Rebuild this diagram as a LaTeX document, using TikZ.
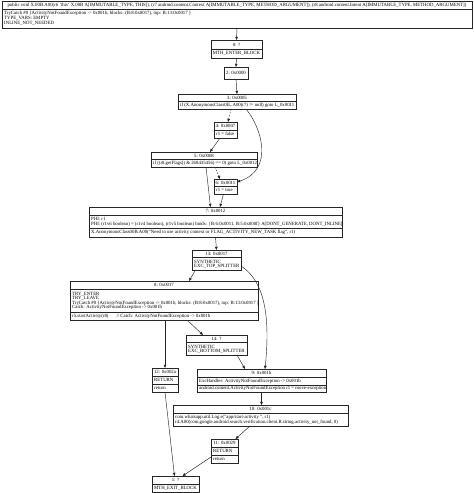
\documentclass[tikz,border=0pt]{standalone}
\usepackage{fontspec}
\setmainfont{Liberation Serif}
\usetikzlibrary{arrows.meta}
\begin{document}
\begin{tikzpicture}[x=1pt,y=-1pt,
  blk/.style={draw=black!85,line width=0.45pt,inner sep=0pt,outer sep=0pt,rectangle},
  tx/.style={inner sep=0pt,font=\fontsize{4.8}{5}\selectfont,text=black},
  tl/.style={tx,anchor=west},
  sepl/.style={draw=black!85,line width=0.45pt},
  edge/.style={draw=black!85,line width=0.45pt,-{Triangle[length=3.2pt,width=2.6pt]}},
  dedge/.style={edge,dash pattern=on 1.5pt off 1.5pt}]
\useasboundingbox (0,0) rectangle (474,493);
% header
\node[blk,minimum width=470pt,minimum height=26.5pt] (H) at (237,14.75) {};
\draw[sepl] (H.west |- 0,9.5) -- (H.east |- 0,9.5);
\node[tx] at (237,5.5) {public void X.00B.A00(r6 'this' X.00B A[IMMUTABLE\_TYPE, THIS]), (r7 android.content.Context A[IMMUTABLE\_TYPE, METHOD\_ARGUMENT]), (r8 android.content.Intent A[IMMUTABLE\_TYPE, METHOD\_ARGUMENT])};
\node[tl] at (4,13.5) {TryCatch \#0 \{ActivityNotFoundException -> 0x001b, blocks: (B:8:0x0017), top: B:13:0x0017 \}};
\node[tl] at (4,18.5) {TYPE\_VARS: EMPTY};
\node[tl] at (4,23.5) {INLINE\_NOT\_NEEDED};
% block 0
\node[blk,minimum width=51pt,minimum height=18pt] (n0) at (236.5,49) {};
\draw[sepl] (n0.west |- 0,49) -- (n0.east |- 0,49);
\node[tx] at (236.5,44.5) {0: ?};
\node[tx] at (236.5,53.5) {MTH\_ENTER\_BLOCK};
% block 2
\node[blk,minimum width=24pt,minimum height=12pt] (n2) at (236,73) {};
\node[tx] at (236,73) {2: 0x0000};
% block 3
\node[blk,minimum width=118pt,minimum height=15pt] (n3) at (237,101.5) {};
\draw[sepl] (n3.west |- 0,101.5) -- (n3.east |- 0,101.5);
\node[tx] at (237,97.7) {3: 0x0005};
\node[tl] at (180,105.3) {if (X.AnonymousClass0IL.A00(r7) != null) goto L\_0x0011};
% block 4
\node[blk,minimum width=23pt,minimum height=16pt] (n4) at (225.5,130) {};
\draw[sepl] (n4.west |- 0,130) -- (n4.east |- 0,130);
\node[tx] at (225.5,126) {4: 0x0007};
\node[tl] at (216,134) {r1 = false};
% block 5
\node[blk,minimum width=106pt,minimum height=15pt] (n5) at (204,159.5) {};
\draw[sepl] (n5.west |- 0,159.5) -- (n5.east |- 0,159.5);
\node[tx] at (204,155.7) {5: 0x0008};
\node[tl] at (153,163.3) {if ((r8.getFlags() \& 268435456) == 0) goto L\_0x0012};
% block 6
\node[blk,minimum width=23pt,minimum height=15pt] (n6) at (225.5,186.5) {};
\draw[sepl] (n6.west |- 0,186.5) -- (n6.east |- 0,186.5);
\node[tx] at (225.5,182.7) {6: 0x0011};
\node[tl] at (216,190.3) {r1 = true};
% block 7
\node[blk,minimum width=253pt,minimum height=30pt] (n7) at (215.5,222) {};
\draw[sepl] (n7.west |- 0,215.5) -- (n7.east |- 0,215.5);
\draw[sepl] (n7.west |- 0,228.5) -- (n7.east |- 0,228.5);
\node[tx] at (215.5,211.3) {7: 0x0012};
\node[tl] at (91,219.3) {PHI: r1};
\node[tl] at (91,224.3) {PHI: (r1v6 boolean) = (r1v4 boolean), (r1v5 boolean) binds: \{B:6:0x0011, B:5:0x000f\} A[DONT\_GENERATE, DONT\_INLINE]};
\node[tl] at (91,232.7) {X.AnonymousClass00B.A00("Need to use activity context or FLAG\_ACTIVITY\_NEW\_TASK flag", r1)};
% block 13
\node[blk,minimum width=49pt,minimum height=20pt] (n13) at (216.5,260) {};
\draw[sepl] (n13.west |- 0,257) -- (n13.east |- 0,257);
\node[tx] at (216.5,253.5) {13: 0x0017};
\node[tl] at (194,261.5) {SYNTHETIC};
\node[tl] at (194,266.3) {EXC\_TOP\_SPLITTER};
% block 8
\node[blk,minimum width=188pt,minimum height=39pt] (n8) at (164,300.5) {};
\draw[sepl] (n8.west |- 0,289.5) -- (n8.east |- 0,289.5);
\draw[sepl] (n8.west |- 0,312) -- (n8.east |- 0,312);
\node[tx] at (164,285.3) {8: 0x0017};
\node[tl] at (72,294) {TRY\_ENTER};
\node[tl] at (72,298.5) {TRY\_LEAVE};
\node[tl] at (72,303) {TryCatch \#0 \{ActivityNotFoundException -> 0x001b, blocks: (B:8:0x0017), top: B:13:0x0017 \}};
\node[tl] at (72,307.5) {Catch: ActivityNotFoundException -> 0x001b};
\node[tl] at (72,316) {r5.startActivity(r8)\hspace{8pt}// Catch: ActivityNotFoundException -> 0x001b};
% block 14
\node[blk,minimum width=61pt,minimum height=20pt] (n14) at (216.5,345) {};
\draw[sepl] (n14.west |- 0,342) -- (n14.east |- 0,342);
\node[tx] at (216.5,338.5) {14: ?};
\node[tl] at (188,346.5) {SYNTHETIC};
\node[tl] at (188,351.3) {EXC\_BOTTOM\_SPLITTER};
% block 9
\node[blk,minimum width=129pt,minimum height=23pt] (n9) at (261.5,380.5) {};
\draw[sepl] (n9.west |- 0,377) -- (n9.east |- 0,377);
\draw[sepl] (n9.west |- 0,385) -- (n9.east |- 0,385);
\node[tx] at (261.5,373) {9: 0x001b};
\node[tl] at (199,381) {ExcHandler: ActivityNotFoundException -> 0x001b};
\node[tl] at (199,388.5) {android.content.ActivityNotFoundException r1 = move-exception};
% block 12
\node[blk,minimum width=26pt,minimum height=24pt] (n12) at (165,380) {};
\draw[sepl] (n12.west |- 0,376) -- (n12.east |- 0,376);
\draw[sepl] (n12.west |- 0,384) -- (n12.east |- 0,384);
\node[tx] at (165,372) {12: 0x002a};
\node[tl] at (154,380) {RETURN};
\node[tl] at (154,388) {return};
% block 10
\node[blk,minimum width=175pt,minimum height=21pt] (n10) at (260.5,415.5) {};
\draw[sepl] (n10.west |- 0,413) -- (n10.east |- 0,413);
\node[tx] at (260.5,409) {10: 0x001c};
\node[tl] at (175,417) {com.whatsapp.util.Log.e("app/start-activity ", r1)};
\node[tl] at (175,422) {r4.A00(com.google.android.search.verification.client.R.string.activity\_not\_found, 0)};
% block 11
\node[blk,minimum width=27pt,minimum height=24pt] (n11) at (224.5,451) {};
\draw[sepl] (n11.west |- 0,447) -- (n11.east |- 0,447);
\draw[sepl] (n11.west |- 0,455) -- (n11.east |- 0,455);
\node[tx] at (224.5,443) {11: 0x0029};
\node[tl] at (213,451) {RETURN};
\node[tl] at (213,459) {return};
% block 1
\node[blk,minimum width=47pt,minimum height=16pt] (n1) at (175.5,484) {};
\draw[sepl] (n1.west |- 0,484) -- (n1.east |- 0,484);
\node[tx] at (175.5,480) {1: ?};
\node[tx] at (175.5,488) {MTH\_EXIT\_BLOCK};
% edges
\draw[edge] (H.south) -- (n0.north);
\draw[edge] (n0.south) -- (n2.north);
\draw[edge] (n2.south) -- (n3.north);
\draw[dedge] ([xshift=-6pt]n3.south) -- ([xshift=2.5pt]n4.north);
\draw[edge] ([xshift=9pt]n3.south) .. controls +(16,19) and +(37,-12) .. ([yshift=-3pt]n6.north east);
\draw[edge] ([xshift=-5.5pt]n4.south) -- ([xshift=6pt]n5.north);
\draw[dedge] ([xshift=11pt]n5.south) -- ([xshift=-5.5pt]n6.north);
\draw[edge] ([xshift=2pt]n5.south) -- ([xshift=-5pt]n7.north);
\draw[edge] ([xshift=-2pt]n6.south) -- ([xshift=4.5pt]n7.north);
\draw[edge] (n7.south) -- (n13.north);
\draw[edge] ([xshift=-21pt]n13.south) -- ([xshift=25pt]n8.north);
\draw[edge] ([yshift=-6pt]n13.east) .. controls +(28,18) and +(4,-40) .. ([xshift=3.5pt]n9.north);
\draw[edge] ([xshift=23pt]n8.south) -- ([xshift=-13.5pt]n14.north);
\draw[edge] ([xshift=1pt]n8.south) -- (n12.north);
\draw[edge] ([xshift=20.5pt]n14.south) -- ([xshift=-16.5pt]n9.north);
\draw[edge] (n9.south) -- ([xshift=1pt]n10.north);
\draw[edge] ([xshift=-10.5pt]n10.south) -- ([xshift=11pt]n11.north);
\draw[edge] ([yshift=-6pt]n11.west) -- ([xshift=7pt]n1.north);
\draw[edge] (n12.south) -- ([xshift=-1pt]n1.north);
\end{tikzpicture}
\end{document}
